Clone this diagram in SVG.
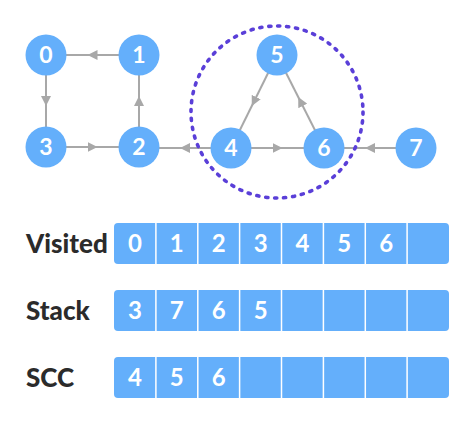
<svg xmlns="http://www.w3.org/2000/svg" width="474" height="424" viewBox="0 0 474 424">
<style>
.node circle{fill:#64affb}
.node text,.cell text{fill:#fff;font-family:Lato,"Liberation Sans",sans-serif;font-weight:bold;text-anchor:middle}
.node text{font-size:23px}
.cell text{font-size:24px}
.edge{fill:none;stroke:#a8a8a8;stroke-width:2;marker-mid:url(#arr)}
.lbl{fill:#2b2b2b;font-family:Lato,"Liberation Sans",sans-serif;font-weight:900;font-size:26px}
.bar{fill:#64affb}
.sep{stroke:#fff;stroke-width:1.5}
</style>
<defs>
<marker id="arr" viewBox="0 0 10 10" refX="5" refY="5" markerWidth="10" markerHeight="10" markerUnits="userSpaceOnUse" orient="auto">
<path d="M0,0 L10,5 L0,10 Z" fill="#a8a8a8"/>
</marker>
</defs>
<rect width="474" height="424" fill="#fff"/>
<g id="connectors">
<path class="edge" d="M139,55 L92.5,55 L46,55"/>
<path class="edge" d="M46,55 L46,101 L46,147"/>
<path class="edge" d="M46,147 L92.5,147 L139,147"/>
<path class="edge" d="M139,147 L139,101 L139,55"/>
<path class="edge" d="M231,148 L185,148 L139,148"/>
<path class="edge" d="M277,55 L254,101.5 L231,148"/>
<path class="edge" d="M324,148 L300.5,101.5 L277,55"/>
<path class="edge" d="M231,148 L277.5,148 L324,148"/>
<path class="edge" d="M416,148 L370,148 L324,148"/>
</g>
<g id="n0" class="node"><circle cx="46" cy="55" r="20.5"/><text x="46" y="63">0</text></g>
<g id="n1" class="node"><circle cx="139" cy="55" r="20.5"/><text x="139" y="63">1</text></g>
<g id="n3" class="node"><circle cx="46" cy="147" r="20.5"/><text x="46" y="155">3</text></g>
<g id="n2" class="node"><circle cx="139" cy="147" r="20.5"/><text x="139" y="155">2</text></g>
<g id="n5" class="node"><circle cx="277" cy="55" r="20.5"/><text x="277" y="63">5</text></g>
<g id="n4" class="node"><circle cx="231" cy="148" r="20.5"/><text x="231" y="156">4</text></g>
<g id="n6" class="node"><circle cx="324" cy="148" r="20.5"/><text x="324" y="156">6</text></g>
<g id="n7" class="node"><circle cx="416" cy="148" r="20.5"/><text x="416" y="156">7</text></g>
<g id="scc-ring"><circle cx="277" cy="112" r="86" fill="none" stroke="#5a3fd8" stroke-width="3.6" stroke-linecap="round" stroke-dasharray="2.2 6.806"/></g>
<g id="visited">
<text class="lbl" x="26" y="253">Visited</text>
<rect class="bar" x="114" y="223" width="335" height="41" rx="4"/>
<g class="sep"><line x1="155.9" y1="223" x2="155.9" y2="264"/><line x1="197.8" y1="223" x2="197.8" y2="264"/><line x1="239.6" y1="223" x2="239.6" y2="264"/><line x1="281.5" y1="223" x2="281.5" y2="264"/><line x1="323.4" y1="223" x2="323.4" y2="264"/><line x1="365.3" y1="223" x2="365.3" y2="264"/><line x1="407.1" y1="223" x2="407.1" y2="264"/></g>
<g class="cell"><text x="134.9" y="252">0</text><text x="176.8" y="252">1</text><text x="218.7" y="252">2</text><text x="260.6" y="252">3</text><text x="302.4" y="252">4</text><text x="344.3" y="252">5</text><text x="386.2" y="252">6</text></g>
</g>
<g id="stack">
<text class="lbl" x="26" y="320">Stack</text>
<rect class="bar" x="114" y="290" width="335" height="41" rx="4"/>
<g class="sep"><line x1="155.9" y1="290" x2="155.9" y2="331"/><line x1="197.8" y1="290" x2="197.8" y2="331"/><line x1="239.6" y1="290" x2="239.6" y2="331"/><line x1="281.5" y1="290" x2="281.5" y2="331"/><line x1="323.4" y1="290" x2="323.4" y2="331"/><line x1="365.3" y1="290" x2="365.3" y2="331"/><line x1="407.1" y1="290" x2="407.1" y2="331"/></g>
<g class="cell"><text x="134.9" y="319">3</text><text x="176.8" y="319">7</text><text x="218.7" y="319">6</text><text x="260.6" y="319">5</text></g>
</g>
<g id="scc">
<text class="lbl" x="26" y="387">SCC</text>
<rect class="bar" x="114" y="357" width="335" height="41" rx="4"/>
<g class="sep"><line x1="155.9" y1="357" x2="155.9" y2="398"/><line x1="197.8" y1="357" x2="197.8" y2="398"/><line x1="239.6" y1="357" x2="239.6" y2="398"/><line x1="281.5" y1="357" x2="281.5" y2="398"/><line x1="323.4" y1="357" x2="323.4" y2="398"/><line x1="365.3" y1="357" x2="365.3" y2="398"/><line x1="407.1" y1="357" x2="407.1" y2="398"/></g>
<g class="cell"><text x="134.9" y="386">4</text><text x="176.8" y="386">5</text><text x="218.7" y="386">6</text></g>
</g>
</svg>
